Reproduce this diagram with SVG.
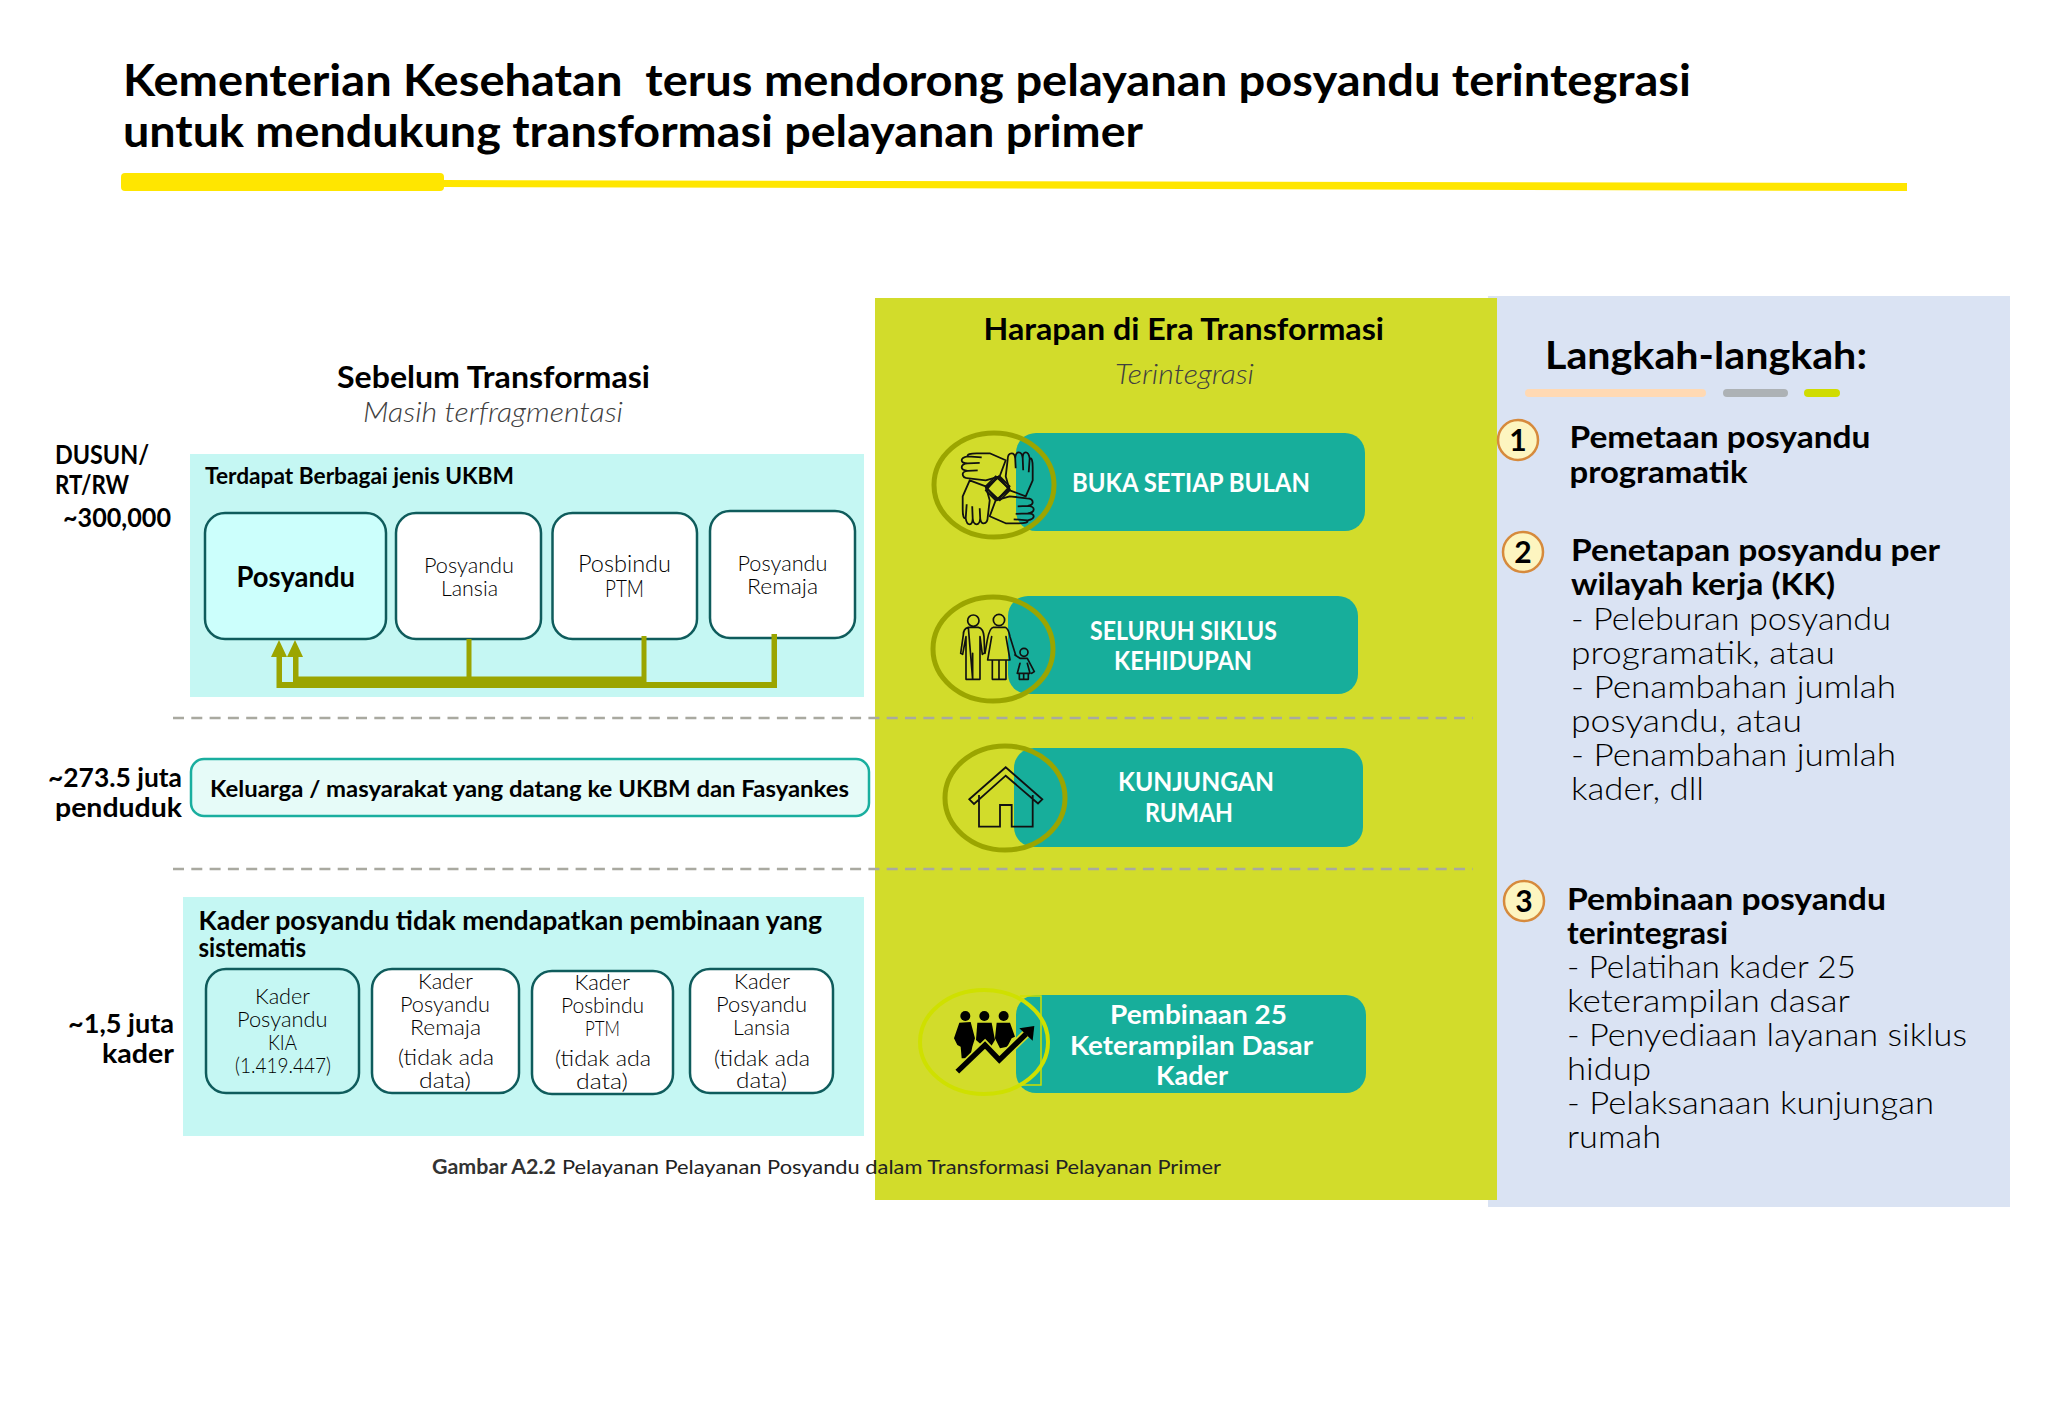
<svg xmlns="http://www.w3.org/2000/svg" width="2048" height="1418" viewBox="0 0 2048 1418">
<style>
text{font-family:"Lato","Open Sans","Liberation Sans",sans-serif;fill:#000;font-weight:300}
.b{font-weight:700}
.i{font-style:italic;fill:#404040}
.w{fill:#fff;font-weight:700}
.panel{fill:#c5f7f3}
.box{fill:#fff;stroke:#0f5c5c;stroke-width:2.5}
.btn{fill:#17ae9b}
.ring{fill:none;stroke:#9ba500;stroke-width:5}
.ic{fill:none;stroke:#111;stroke-width:5;stroke-linejoin:round;stroke-linecap:round}
.olive{fill:#9ba500}
.num{fill:#fdf5c0;stroke:#d68a3c;stroke-width:2.5}
</style>
<defs>
<path id="hand" d="M-21,-35 L-8,-35 L8,-28 L2,-12 L-12,-8 L-29,-10 Q-35,-10 -35,-14 Q-35,-17 -30,-17.500 L-20,-18 M-30,-17.500 Q-36,-18 -36,-21 Q-36,-24.500 -30,-25 L-18,-25.500 M-30,-25 Q-36,-25 -36,-28 Q-36,-31 -30,-32 L-16,-31 M-30,-32 Q-31,-35 -21,-35 M2,-12 L12,-2 L0,11 L-12,-1Z" fill="none" stroke="#111" stroke-width="1.800" stroke-linejoin="round"/>
</defs>
<rect width="2048" height="1418" fill="#fff"/>

<g id="title">
<text class="b" x="123" y="96" font-size="43" textLength="1568" lengthAdjust="spacingAndGlyphs" style="white-space:pre">Kementerian Kesehatan  terus mendorong pelayanan posyandu terintegrasi</text>
<text class="b" x="123" y="147" font-size="43" textLength="1020" lengthAdjust="spacingAndGlyphs">untuk mendukung transformasi pelayanan primer</text>
<path d="M444,180 L1907,183 V191 L444,187Z" fill="#ffe600"/>
<rect x="121" y="173" width="323" height="18" rx="4" fill="#ffe600"/>
</g>

<g id="panel-blue"><rect x="1488" y="296" width="522" height="911" fill="#dae3f3"/></g>
<g id="panel-green"><rect x="875" y="298" width="622" height="902" fill="#d2dc2b"/></g>

<g id="sebelum-head">
<text class="b" x="337" y="388" font-size="30" textLength="313" lengthAdjust="spacingAndGlyphs">Sebelum Transformasi</text>
<text class="i" x="363" y="422" font-size="27" textLength="260" lengthAdjust="spacingAndGlyphs">Masih terfragmentasi</text>
</g>
<g id="label-dusun">
<text class="b" x="55" y="464" font-size="26" textLength="94" lengthAdjust="spacingAndGlyphs">DUSUN/</text>
<text class="b" x="55" y="494" font-size="26" textLength="74" lengthAdjust="spacingAndGlyphs">RT/RW</text>
<text class="b" x="63" y="527" font-size="26" textLength="108" lengthAdjust="spacingAndGlyphs">~300,000</text>
</g>

<g id="ukbm-panel">
<rect class="panel" x="190" y="454" width="674" height="243"/>
<text class="b" x="205" y="484" font-size="23" textLength="309" lengthAdjust="spacingAndGlyphs">Terdapat Berbagai jenis UKBM</text>
</g>
<g id="node-posyandu">
<rect class="box" x="205" y="513" width="181" height="126" rx="20" style="fill:#ccfffc"/>
<text class="b" x="236.500" y="587" font-size="28" textLength="118.500" lengthAdjust="spacingAndGlyphs">Posyandu</text>
</g>
<g id="node-lansia">
<rect class="box" x="396" y="513" width="145" height="126" rx="20"/>
<text x="424" y="573" font-size="22" textLength="90" lengthAdjust="spacingAndGlyphs">Posyandu</text>
<text x="441" y="596" font-size="22" textLength="57" lengthAdjust="spacingAndGlyphs">Lansia</text>
</g>
<g id="node-posbindu">
<rect class="box" x="552.500" y="513" width="144.500" height="126" rx="20"/>
<text x="578" y="572" font-size="24" textLength="93" lengthAdjust="spacingAndGlyphs">Posbindu</text>
<text x="605" y="597" font-size="24" textLength="39" lengthAdjust="spacingAndGlyphs">PTM</text>
</g>
<g id="node-remaja">
<rect class="box" x="710" y="511" width="145" height="127" rx="20"/>
<text x="737.500" y="571" font-size="22" textLength="90" lengthAdjust="spacingAndGlyphs">Posyandu</text>
<text x="747" y="594" font-size="22" textLength="71" lengthAdjust="spacingAndGlyphs">Remaja</text>
</g>

<g id="connectors">
<path class="olive" d="M276.500,688 V657 H271 L279,640 L287,657 H282 V682 H293 V657 H287 L295,640 L303,657 H298.500 V676.500 H466.500 V639 H471.500 V676.500 H641.500 V636 H646.500 V682 H771.500 V634 H777 V688Z"/>
<path d="M173,718 H1473 M173,869 H1473" fill="none" stroke="#a9a9a0" stroke-width="2.500" stroke-dasharray="11 7.300"/>
</g>

<g id="node-keluarga">
<rect x="191" y="759" width="678" height="57" rx="13" fill="#e6fbf8" stroke="#1aae9f" stroke-width="2.500"/>
<text class="b" x="210" y="797" font-size="23" textLength="639" lengthAdjust="spacingAndGlyphs">Keluarga / masyarakat yang datang ke UKBM dan Fasyankes</text>
</g>
<g id="label-penduduk">
<text class="b" x="48" y="787" font-size="26" textLength="134" lengthAdjust="spacingAndGlyphs">~273.5 juta</text>
<text class="b" x="55" y="817" font-size="26" textLength="127" lengthAdjust="spacingAndGlyphs">penduduk</text>
</g>
<g id="label-kader">
<text class="b" x="68" y="1033" font-size="26" textLength="106" lengthAdjust="spacingAndGlyphs">~1,5 juta</text>
<text class="b" x="102" y="1063" font-size="26" textLength="72" lengthAdjust="spacingAndGlyphs">kader</text>
</g>

<g id="kader-panel">
<rect class="panel" x="183" y="897" width="681" height="239"/>
<text class="b" x="198.500" y="930" font-size="26" textLength="623.500" lengthAdjust="spacingAndGlyphs">Kader posyandu tidak mendapatkan pembinaan yang</text>
<text class="b" x="198.500" y="957" font-size="26" textLength="107.500" lengthAdjust="spacingAndGlyphs">sistematis</text>
</g>
<g id="node-kader-kia">
<rect class="box" x="206" y="969" width="153" height="124" rx="20" style="fill:#c5f7f3"/>
<text x="255" y="1004" font-size="22" textLength="55" lengthAdjust="spacingAndGlyphs">Kader</text>
<text x="237" y="1027" font-size="22" textLength="90.500" lengthAdjust="spacingAndGlyphs">Posyandu</text>
<text x="268" y="1050" font-size="22" textLength="29" lengthAdjust="spacingAndGlyphs">KIA</text>
<text x="235" y="1073" font-size="22" textLength="96" lengthAdjust="spacingAndGlyphs">(1.419.447)</text>
</g>
<g id="node-kader-remaja">
<rect class="box" x="372" y="969" width="147" height="124" rx="20"/>
<text x="418" y="989" font-size="22" textLength="55" lengthAdjust="spacingAndGlyphs">Kader</text>
<text x="400" y="1012" font-size="22" textLength="90" lengthAdjust="spacingAndGlyphs">Posyandu</text>
<text x="410" y="1035" font-size="22" textLength="71" lengthAdjust="spacingAndGlyphs">Remaja</text>
<text x="398" y="1065" font-size="22" textLength="96" lengthAdjust="spacingAndGlyphs">(tidak ada</text>
<text x="419" y="1088" font-size="22" textLength="52" lengthAdjust="spacingAndGlyphs">data)</text>
</g>
<g id="node-kader-posbindu">
<rect class="box" x="532" y="971" width="141" height="123" rx="20"/>
<text x="574.500" y="990" font-size="22" textLength="55.500" lengthAdjust="spacingAndGlyphs">Kader</text>
<text x="561" y="1013" font-size="22" textLength="83" lengthAdjust="spacingAndGlyphs">Posbindu</text>
<text x="585" y="1036" font-size="22" textLength="35" lengthAdjust="spacingAndGlyphs">PTM</text>
<text x="555" y="1066" font-size="22" textLength="96" lengthAdjust="spacingAndGlyphs">(tidak ada</text>
<text x="576" y="1089" font-size="22" textLength="52" lengthAdjust="spacingAndGlyphs">data)</text>
</g>
<g id="node-kader-lansia">
<rect class="box" x="690" y="969" width="143" height="124" rx="20"/>
<text x="734" y="989" font-size="22" textLength="56" lengthAdjust="spacingAndGlyphs">Kader</text>
<text x="716" y="1012" font-size="22" textLength="91" lengthAdjust="spacingAndGlyphs">Posyandu</text>
<text x="733" y="1035" font-size="22" textLength="57" lengthAdjust="spacingAndGlyphs">Lansia</text>
<text x="714" y="1066" font-size="22" textLength="96" lengthAdjust="spacingAndGlyphs">(tidak ada</text>
<text x="736" y="1088" font-size="22" textLength="51" lengthAdjust="spacingAndGlyphs">data)</text>
</g>

<g id="harapan-head">
<text class="b" x="983.500" y="340" font-size="30" textLength="400.500" lengthAdjust="spacingAndGlyphs">Harapan di Era Transformasi</text>
<text class="i" x="1115" y="384" font-size="27" textLength="139" lengthAdjust="spacingAndGlyphs">Terintegrasi</text>
</g>

<g id="node-buka">
<rect class="btn" x="1016" y="433" width="349" height="98" rx="20"/>
<ellipse class="ring" cx="994" cy="485" rx="60" ry="52"/>
<g transform="translate(997.700,488.300)">
<use href="#hand"/><use href="#hand" transform="rotate(90)"/><use href="#hand" transform="rotate(180)"/><use href="#hand" transform="rotate(270)"/>
</g>
<text class="w" x="1072" y="492" font-size="26" textLength="238" lengthAdjust="spacingAndGlyphs">BUKA SETIAP BULAN</text>
</g>
<g id="node-siklus">
<rect class="btn" x="1008" y="596" width="350" height="98" rx="20"/>
<ellipse class="ring" cx="993" cy="649" rx="60" ry="52"/>
<g transform="translate(900,410) scale(0.3333)" class="ic">
<circle cx="220" cy="632" r="17"/><circle cx="297" cy="630" r="17"/><circle cx="372" cy="727" r="12"/>
<path d="M205,652 H235 Q250,655 252,680 L254,728 L247,733 L240,680 V808 H218 V730 M218,808 H198 V680 L188,733 L182,730 L190,675 Q190,655 205,652Z"/>
<path d="M280,652 H315 Q325,655 330,680 L347,735 M280,652 Q268,655 262,690 L255,730 M275,680 L263,750 H330 L318,680 M277,750 V808 H318 V750 M297,750 V808"/>
<path d="M360,745 H382 L403,785 L395,790 M360,745 L345,735 M360,760 L352,790 H390 L382,760 M358,790 V808 H385 V790 M371,790 V808"/>
</g>
<text class="w" x="1090" y="640" font-size="26" textLength="187" lengthAdjust="spacingAndGlyphs">SELURUH SIKLUS</text>
<text class="w" x="1114" y="670" font-size="26" textLength="138" lengthAdjust="spacingAndGlyphs">KEHIDUPAN</text>
</g>
<g id="node-kunjungan">
<rect class="btn" x="1014" y="748" width="349" height="99" rx="20"/>
<ellipse class="ring" cx="1005" cy="798" rx="60" ry="52"/>
<path d="M969.300,799.300 L1005.700,767.300 L1042.300,799.300 L1038,803.500 L1005.700,775.700 L974,804Z M979,795 V826.700 H1000 V805 H1011.700 V826.700 H1032.700 V795" fill="none" stroke="#111" stroke-width="1.800" stroke-linejoin="miter"/>
<text class="w" x="1118" y="791" font-size="26" textLength="156" lengthAdjust="spacingAndGlyphs">KUNJUNGAN</text>
<text class="w" x="1145" y="822" font-size="26" textLength="88" lengthAdjust="spacingAndGlyphs">RUMAH</text>
</g>
<g id="node-pembinaan">
<rect class="btn" x="1016" y="995" width="350" height="98" rx="20"/>
<ellipse cx="984" cy="1042" rx="64" ry="52" fill="none" stroke="#cfe000" stroke-width="4"/>
<path d="M1020,996 H1041 V1085 H1020" fill="none" stroke="#cfe000" stroke-width="1.500"/>
<g transform="translate(900,730) scale(0.3333)" fill="#000">
<circle cx="196" cy="858" r="15"/><circle cx="253" cy="858" r="15"/><circle cx="311" cy="858" r="15"/>
<path d="M178,878 L212,876 L225,925 L217,950 L210,985 L185,985 L182,950 L172,945 L162,925Z"/>
<path d="M232,878 L275,878 L285,930 L270,955 L245,945 L228,930Z"/>
<path d="M290,878 L330,878 L345,920 L335,925 L322,950 L300,955 L285,925Z"/>
<path d="M172,1025 L255,945 L298,990 L385,905" fill="none" stroke="#d2dc2b" stroke-width="26"/>
<path d="M172,1025 L255,945 L298,990 L378,912" fill="none" stroke="#000" stroke-width="16"/>
<path d="M403,888 L398,932 L358,895Z"/>
</g>
<text class="w" x="1110" y="1024" font-size="27" textLength="177" lengthAdjust="spacingAndGlyphs">Pembinaan 25</text>
<text class="w" x="1070" y="1055" font-size="27" textLength="243" lengthAdjust="spacingAndGlyphs">Keterampilan Dasar</text>
<text class="w" x="1156" y="1085" font-size="27" textLength="72" lengthAdjust="spacingAndGlyphs">Kader</text>
</g>

<g id="caption">
<text class="b" x="432" y="1174" font-size="20" textLength="124" lengthAdjust="spacingAndGlyphs" style="fill:#333">Gambar A2.2</text>
<text x="562" y="1174" font-size="20" textLength="659" lengthAdjust="spacingAndGlyphs" style="fill:#222;font-weight:400">Pelayanan Pelayanan Posyandu dalam Transformasi Pelayanan Primer</text>
</g>

<g id="langkah-head">
<text class="b" x="1545" y="369" font-size="38" textLength="322" lengthAdjust="spacingAndGlyphs">Langkah-langkah:</text>
<rect x="1525" y="389" width="181" height="8" rx="4" fill="#ffd9b3"/>
<rect x="1723" y="389" width="65" height="8" rx="4" fill="#adb2b5"/>
<rect x="1804" y="389" width="36" height="8" rx="4" fill="#d0dc00"/>
</g>
<g id="step-1">
<circle class="num" cx="1518" cy="440" r="20"/>
<text class="b" x="1518" y="451" font-size="30" text-anchor="middle">1</text>
<text class="b" x="1569.500" y="448" font-size="31" textLength="301" lengthAdjust="spacingAndGlyphs">Pemetaan posyandu</text>
<text class="b" x="1569.500" y="483" font-size="31" textLength="178" lengthAdjust="spacingAndGlyphs">programatik</text>
</g>
<g id="step-2">
<circle class="num" cx="1523" cy="552" r="20"/>
<text class="b" x="1523" y="563" font-size="30" text-anchor="middle">2</text>
<text class="b" x="1571" y="561" font-size="31" textLength="369" lengthAdjust="spacingAndGlyphs">Penetapan posyandu per</text>
<text class="b" x="1571" y="595" font-size="31" textLength="264" lengthAdjust="spacingAndGlyphs">wilayah kerja (KK)</text>
<text x="1571" y="630" font-size="31" textLength="320" lengthAdjust="spacingAndGlyphs">- Peleburan posyandu</text>
<text x="1571" y="664" font-size="31" textLength="264" lengthAdjust="spacingAndGlyphs">programatik, atau</text>
<text x="1571" y="698" font-size="31" textLength="325" lengthAdjust="spacingAndGlyphs">- Penambahan jumlah</text>
<text x="1571" y="732" font-size="31" textLength="231" lengthAdjust="spacingAndGlyphs">posyandu, atau</text>
<text x="1571" y="766" font-size="31" textLength="325" lengthAdjust="spacingAndGlyphs">- Penambahan jumlah</text>
<text x="1571" y="800" font-size="31" textLength="133" lengthAdjust="spacingAndGlyphs">kader, dll</text>
</g>
<g id="step-3">
<circle class="num" cx="1524" cy="901" r="20"/>
<text class="b" x="1524" y="912" font-size="30" text-anchor="middle">3</text>
<text class="b" x="1567" y="910" font-size="31" textLength="319" lengthAdjust="spacingAndGlyphs">Pembinaan posyandu</text>
<text class="b" x="1567" y="944" font-size="31" textLength="161" lengthAdjust="spacingAndGlyphs">terintegrasi</text>
<text x="1567" y="978" font-size="31" textLength="289" lengthAdjust="spacingAndGlyphs">- Pelatihan kader 25</text>
<text x="1567" y="1012" font-size="31" textLength="283" lengthAdjust="spacingAndGlyphs">keterampilan dasar</text>
<text x="1567" y="1046" font-size="31" textLength="400" lengthAdjust="spacingAndGlyphs">- Penyediaan layanan siklus</text>
<text x="1567" y="1080" font-size="31" textLength="84" lengthAdjust="spacingAndGlyphs">hidup</text>
<text x="1567" y="1114" font-size="31" textLength="367" lengthAdjust="spacingAndGlyphs">- Pelaksanaan kunjungan</text>
<text x="1567" y="1148" font-size="31" textLength="94" lengthAdjust="spacingAndGlyphs">rumah</text>
</g>
</svg>
